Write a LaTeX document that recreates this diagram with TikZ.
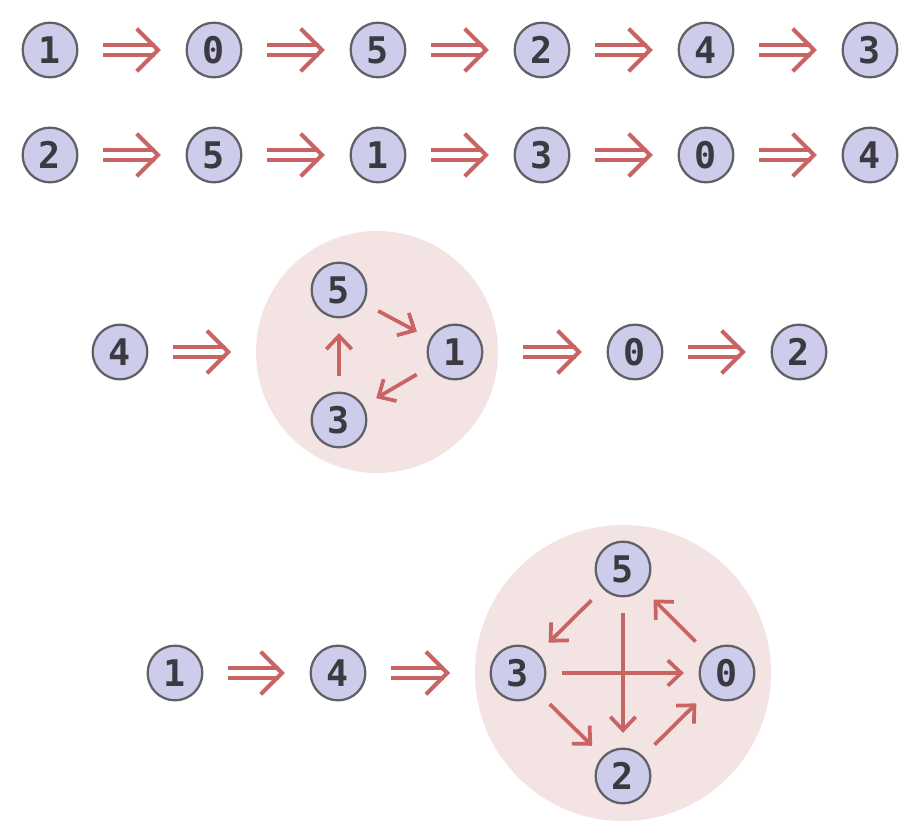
\documentclass[tikz,border=0pt]{standalone}
\usepackage{fontspec}
\setmonofont{DejaVu Sans Mono}
\usetikzlibrary{arrows.meta}
\definecolor{nodefill}{HTML}{CDCDEB}
\definecolor{nodedraw}{HTML}{606066}
\definecolor{txt}{HTML}{3A3A40}
\definecolor{arr}{HTML}{C86464}
\definecolor{blob}{HTML}{F4E3E3}
\begin{document}
\begin{tikzpicture}[x=0.75pt,y=-0.75pt,
  vtx/.style={circle, draw=nodedraw, fill=nodefill, line width=1.7pt,
    minimum size=41pt, inner sep=0pt, text=txt,
    font=\ttfamily\bfseries\fontsize{27.5}{27.5}\selectfont},
  grp/.style={circle, fill=blob, inner sep=0pt},
  dblline/.style={draw=arr, double=white, double distance=4.5pt, line width=3pt,
    shorten <=18.5pt, shorten >=23pt},
  chev/.style={draw=arr, line width=0.01pt,
    -{Straight Barb[length=16pt,width=32pt,line width=3pt]},
    shorten <=60pt, shorten >=18.5pt},
  sgl/.style={draw=arr, line width=2.8pt,
    -{Straight Barb[length=10pt,width=19pt]},
    shorten <=12pt, shorten >=11pt}]
\useasboundingbox (0,0) rectangle (922,838);

% row 1
\foreach \n/\x/\t in {a1/50/1, a2/214/0, a3/378/5, a4/542/2, a5/706/4, a6/870/3}
  \node[vtx] (\n) at (\x,50) {\t};
% row 2
\foreach \n/\x/\t in {b1/50/2, b2/214/5, b3/378/1, b4/542/3, b5/706/0, b6/870/4}
  \node[vtx] (\n) at (\x,155) {\t};
\foreach \p/\q in {a1/a2, a2/a3, a3/a4, a4/a5, a5/a6, b1/b2, b2/b3, b3/b4, b4/b5, b5/b6} {
  \draw[dblline] (\p) -- (\q);
  \draw[chev] (\p) -- (\q);
}

% row 3
\node[grp, minimum size=181.5pt] (g1) at (377,352) {};
\node[vtx] (c4) at (120,352) {4};
\node[vtx] (c5) at (339,290) {5};
\node[vtx] (c1) at (455,352) {1};
\node[vtx] (c3) at (339,420) {3};
\node[vtx] (c0) at (635,352) {0};
\node[vtx] (c2) at (799,352) {2};
\foreach \p/\q in {c4/g1, g1/c0, c0/c2} {
  \draw[dblline] (\p) -- (\q);
  \draw[chev] (\p) -- (\q);
}
\draw[sgl] (c5) -- (c1);
\draw[sgl] (c1) -- (c3);
\draw[sgl] (c3) -- (c5);

% row 4
\node[grp, minimum size=222pt] (g2) at (623,673) {};
\node[vtx] (d1) at (175,673) {1};
\node[vtx] (d4) at (338,673) {4};
\node[vtx] (d5) at (623,569) {5};
\node[vtx] (d3) at (518,673) {3};
\node[vtx] (d0) at (727,673) {0};
\node[vtx] (d2) at (623,776) {2};
\foreach \p/\q in {d1/d4, d4/g2} {
  \draw[dblline] (\p) -- (\q);
  \draw[chev] (\p) -- (\q);
}
\draw[sgl] (d5) -- (d3);
\draw[sgl] (d5) -- (d2);
\draw[sgl] (d3) -- (d0);
\draw[sgl] (d3) -- (d2);
\draw[sgl] (d2) -- (d0);
\draw[sgl] (d0) -- (d5);
\end{tikzpicture}
\end{document}
